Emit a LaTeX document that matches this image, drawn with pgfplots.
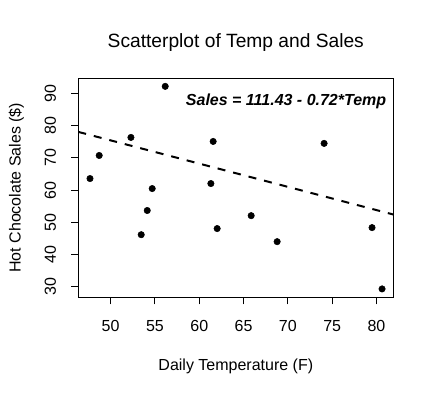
\documentclass[border=0pt]{standalone}
\usepackage{pgfplots}
\pgfplotsset{compat=1.18}
\usepackage{fontspec}
\setmainfont{Liberation Sans}
\begin{document}
\begin{tikzpicture}
\useasboundingbox (0,0) rectangle (325.5pt,296.25pt);
\begin{axis}[
  at={(58.725pt,73.275pt)}, anchor=south west,
  scale only axis, width=236.25pt, height=164.25pt,
  xmin=46.35, xmax=81.9, ymin=26.8, ymax=94.67,
  xtick={50,55,60,65,70,75,80},
  ytick={30,40,50,60,70,80,90},
  tick align=outside, tick pos=left,
  major tick length=5.25pt,
  axis line style={line width=0.75pt},
  every tick/.style={line width=0.75pt, black},
  /pgf/number format/assume math mode=true,
  tick label style={font=\fontsize{12pt}{14pt}\selectfont},
  xticklabel style={anchor=base, yshift=-20.5pt},
  yticklabel style={rotate=90, anchor=base, yshift=11.5pt},
  title={Scatterplot of Temp and Sales},
  every axis title/.style={at={(0.5,1.1397)}, anchor=base, font=\fontsize{14.4pt}{17pt}\selectfont},
  xlabel={Daily Temperature (F)},
  xlabel style={at={(0.5,-0.3352)}, anchor=base, font=\fontsize{12pt}{14pt}\selectfont},
  ylabel={Hot Chocolate Sales (\$)},
  ylabel style={at={(-0.1829,0.5)}, anchor=base, rotate=0, font=\fontsize{12pt}{14pt}\selectfont},
  clip=false,
]
\addplot[only marks, mark=*, mark size=2.4pt, black] coordinates {
(47.67,63.6) (48.71,70.75) (52.29,76.34) (56.16,92.17) (54.69,60.5)
(54.13,53.7) (53.45,46.2) (61.57,75.1) (61.31,62.05) (62.02,48.1)
(65.86,52.1) (68.79,44.04) (74.09,74.5) (79.5,48.4) (80.63,29.4)
};
\addplot[black, line width=1.5pt, dash pattern=on 6pt off 6pt] coordinates {
(46.35,78.06) (81.9,52.46)
};
\node[anchor=base, font=\fontsize{12pt}{14pt}\selectfont\bfseries\itshape] at (axis cs:69.8,86.15) {Sales = 111.43 - 0.72*Temp};
\end{axis}
\end{tikzpicture}
\end{document}
